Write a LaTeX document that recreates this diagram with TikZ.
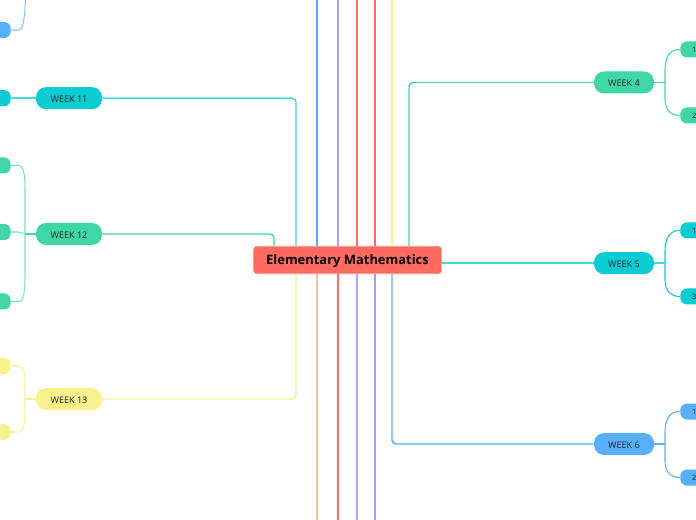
\documentclass[tikz,border=0pt]{standalone}
\usepackage{fontspec}
\setmainfont{Open Sans}
\definecolor{mapred}{HTML}{FF6A60}
\definecolor{mapteal}{HTML}{0BCBD3}
\definecolor{mapline}{HTML}{3FDAE0}
\definecolor{mapgreen}{HTML}{40D6A5}
\definecolor{mapblue}{HTML}{57AEFA}
\definecolor{mapyellow}{HTML}{F9F18D}
\definecolor{mapviolet}{HTML}{A89BFF}
\definecolor{maporange}{HTML}{FFBE93}
\definecolor{maplilac}{HTML}{C69BEF}
\tikzset{
  weeknode/.style={rounded corners=7.5pt, minimum width=49.5pt, minimum height=16.5pt, inner sep=0pt, text height=6.5pt, text depth=0pt, font=\fontsize{6.8}{8}\selectfont, text=black!85},
  leafnode/.style={rounded corners=5pt, minimum width=40pt, minimum height=12pt, inner sep=0pt, text height=5pt, text depth=0pt, font=\fontsize{5.5}{7}\selectfont, text=black!85},
  trunk/.style={line width=1.1pt, rounded corners=3pt},
  stem/.style={line width=1.2pt},
  twig/.style={line width=0.8pt},
}
\begin{document}
\begin{tikzpicture}[x=0.75pt,y=-0.75pt]
    \useasboundingbox (0,0) rectangle (696,520);
    \clip (0,0) rectangle (696,520);
    % centre
    \node[fill=mapred, draw=mapred!70!white, line width=0.5pt, rounded corners=2.5pt, minimum width=141pt, minimum height=20.6pt, inner sep=0pt, text height=7.5pt, text depth=0pt, font=\fontsize{9.7}{11}\selectfont\bfseries] (title) at (347.5,260) {Elementary Mathematics};
    % weeks on the right
    \node[weeknode, fill=mapgreen, minimum width=45pt] (week4) at (624,82.5) {WEEK 4};
    \node[weeknode, fill=mapteal, minimum width=45pt] (week5) at (624,263.2) {WEEK 5};
    \node[weeknode, fill=mapblue, minimum width=45pt] (week6) at (624,444) {WEEK 6};
    % weeks on the left
    \node[weeknode, fill=mapteal] (week11) at (69,98.2) {WEEK 11};
    \node[weeknode, fill=mapgreen] (week12) at (69,234) {WEEK 12};
    \node[weeknode, fill=mapyellow] (week13) at (69,399) {WEEK 13};
    % leaves on the right, their text starts near the page edge
    \node[leafnode, fill=mapgreen, anchor=west] (four1) at (680,49.5) {\hspace{-19pt}1};
    \node[leafnode, fill=mapgreen, anchor=west] (four2) at (680,115.5) {\hspace{-19pt}2};
    \node[leafnode, fill=mapteal, anchor=west] (five1) at (680,230.5) {\hspace{-19pt}1};
    \node[leafnode, fill=mapteal, anchor=west] (five2) at (680,296.5) {\hspace{-19pt}3};
    \node[leafnode, fill=mapblue, anchor=west] (six1) at (680,411.5) {\hspace{-19pt}1};
    \node[leafnode, fill=mapblue, anchor=west] (six2) at (680,477.5) {\hspace{-19pt}2};
    % leaves on the left
    \node[leafnode, fill=mapblue, anchor=east] (ten9) at (11,30) {};
    \node[leafnode, fill=mapteal, anchor=east] (eleven1) at (11,98.2) {};
    \node[leafnode, fill=mapgreen, anchor=east] (twelve1) at (11,165.5) {};
    \node[leafnode, fill=mapgreen, anchor=east] (twelve2) at (11,232) {};
    \node[leafnode, fill=mapgreen, anchor=east] (twelve3) at (11,301.5) {};
    \node[leafnode, fill=mapyellow, anchor=east] (thirteen1) at (11,366) {};
    \node[leafnode, fill=mapyellow, anchor=east] (thirteen2) at (11,432) {};
    % free ends of the lines that leave the page
    \coordinate (tenup) at (25.5,0);
    \foreach \name/\xx in {a/296, b/317, c/338, d/357, e/375, f/392, g/409} {
        \coordinate (top\name) at (\xx,0);
    }
    \foreach \name/\xx/\col in {b/317/maporange, c/338/mapred, d/357/maplilac, e/375/mapviolet} {
        \coordinate (bot\name) at (\xx,520);
        \draw[stem, \col] (bot\name) -- (bot\name |- title.south);
    }
    \foreach \name/\col in {b/mapblue, c/mapviolet, d/mapred, e/mapred, f/mapyellow} {
        \draw[stem, \col] (top\name) -- (top\name |- title.north);
    }
    % trunks
    \draw[trunk, mapline] (week11.east) -| (topa |- title.north);
    \draw[trunk, mapgreen] (week12.east) -| (274,0 |- title.north);
    \draw[trunk, mapyellow] (week13.east) -| (topa |- title.south);
    \draw[trunk, mapgreen] (week4.west) -| (topg |- title.north);
    \draw[stem, mapline] (title.east |- week5) -- (week5.west);
    \draw[trunk, mapblue] (week6.west) -| (topf |- title.south);
    % right twigs
    \draw[twig, mapgreen] (four1.west) .. controls (670,49.5) and (665,56) .. (665,71) -- (665,99) .. controls (665,109) and (670,115.5) .. (four2.west);
    \draw[stem, mapgreen] (week4.east) -- (665,82.5);
    \draw[twig, mapteal] (five1.west) .. controls (670,230.5) and (665,237) .. (665,252) -- (665,280) .. controls (665,290) and (670,296.5) .. (five2.west);
    \draw[stem, mapline] (week5.east) -- (665,263.2);
    \draw[twig, mapblue] (six1.west) .. controls (670,411.5) and (665,418) .. (665,433) -- (665,461) .. controls (665,471) and (670,477.5) .. (six2.west);
    \draw[stem, mapblue] (week6.east) -- (665,444);
    % left twigs
    \draw[twig, mapblue!70!white] (ten9.east) -- (19,30) .. controls (23,30) and (24.5,20) .. (tenup);
    \draw[stem, mapline] (eleven1.east) -- (week11.west);
    \draw[twig, mapgreen!70!white] (twelve1.east) -- (19,165.5) .. controls (23,165.5) and (25,172) .. (25,190) -- (25,276) .. controls (25,294) and (23,301.5) .. (19,301.5) -- (twelve3.east);
    \draw[twig, mapgreen!70!white] (twelve2.east) -- (18,232) -- (25,233.5);
    \draw[stem, mapgreen] (25,234) -- (week12.west);
    \draw[twig, mapyellow] (thirteen1.east) -- (18,366) .. controls (23,366) and (25,372) .. (25,385) -- (25,413) .. controls (25,426) and (23,432) .. (18,432) -- (thirteen2.east);
    \draw[stem, mapyellow] (25,399) -- (week13.west);
\end{tikzpicture}
\end{document}
